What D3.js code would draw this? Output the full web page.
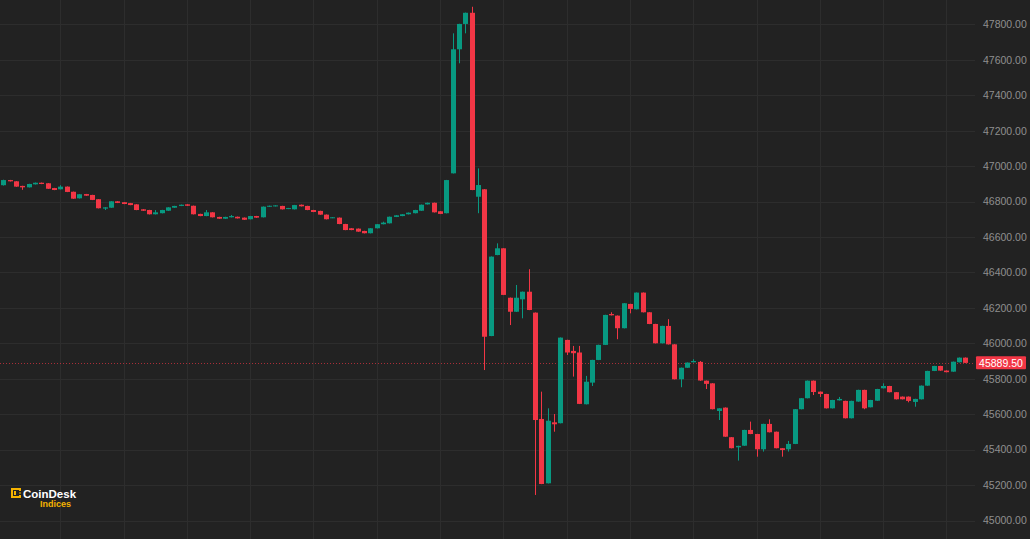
<!DOCTYPE html>
<html><head><meta charset="utf-8">
<script src="https://cdn.jsdelivr.net/npm/d3@7"></script>
<style>
html,body{margin:0;padding:0;background:#222222;overflow:hidden;}
svg{display:block;}
</style></head>
<body>
<svg id="chart" width="1030" height="539"></svg>
<script>
const opens  = [46892,46921,46914,46888,46880,46897,46906,46903,46876,46869,46884,46855,46818,46842,46837,46813,46760,46765,46801,46796,46791,46784,46756,46752,46728,46734,46748,46765,46775,46784,46776,46730,46718,46739,46713,46703,46711,46714,46709,46700,46718,46711,46771,46773,46775,46758,46756,46782,46775,46752,46747,46726,46707,46709,46673,46649,46647,46634,46621,46649,46672,46677,46713,46718,46728,46734,46748,46784,46793,46745,46734,46959,47659,47802,47865,46827,46869,46041,46498,46536,46257,46178,46248,46291,46173,45573,45210,45554,45549,46019,45957,45948,45656,45778,45906,45991,46165,46156,46085,46222,46192,46286,46175,46109,46000,46098,45994,45797,45862,45893,45895,45789,45774,45618,45637,45470,45413,45422,45511,45488,45402,45545,45501,45408,45402,45432,45628,45690,45789,45727,45714,45633,45678,45675,45577,45671,45737,45639,45676,45746,45759,45724,45699,45699,45669,45684,45761,45844,45872,45846,45840,45893,45919];
const highs  = [46923,46922,46915,46889,46900,46907,46907,46904,46877,46892,46885,46856,46842,46843,46838,46814,46768,46802,46802,46797,46792,46785,46757,46753,46752,46753,46768,46776,46783,46785,46777,46731,46752,46740,46714,46714,46724,46715,46710,46719,46719,46772,46777,46779,46776,46764,46781,46783,46776,46753,46748,46727,46712,46710,46674,46650,46648,46635,46650,46673,46686,46715,46723,46729,46738,46753,46783,46794,46794,46746,46922,47749,47803,47866,47899,46987,46870,46490,46564,46537,46258,46329,46292,46418,46174,45727,45633,45601,46033,46020,45985,45985,45816,45907,45992,46161,46175,46157,46227,46223,46287,46287,46176,46110,46099,46136,45995,45863,45892,45910,45900,45790,45775,45634,45638,45471,45422,45512,45558,45489,45546,45571,45502,45409,45449,45629,45691,45790,45790,45728,45715,45681,45697,45676,45676,45738,45738,45681,45743,45774,45760,45725,45700,45700,45687,45762,45845,45873,45873,45847,45897,45920,45920];
const lows   = [46890,46913,46883,46866,46879,46896,46898,46871,46864,46868,46853,46815,46817,46832,46808,46761,46752,46764,46791,46785,46779,46751,46747,46727,46727,46733,46747,46764,46774,46775,46727,46717,46717,46710,46702,46702,46710,46704,46696,46699,46708,46710,46770,46772,46755,46757,46755,46772,46751,46740,46725,46699,46706,46672,46638,46638,46629,46620,46620,46648,46671,46676,46712,46717,46727,46733,46747,46783,46738,46729,46733,46958,47580,47749,46864,46734,45849,46040,46497,46272,46103,46177,46141,46187,45144,45205,45209,45501,45548,45934,45812,45657,45655,45759,45905,45990,46157,46023,46084,46169,46191,46174,46108,45999,45999,45993,45796,45752,45861,45892,45788,45742,45627,45567,45472,45407,45338,45421,45487,45360,45389,45497,45407,45360,45389,45431,45627,45689,45708,45697,45632,45632,45677,45576,45576,45670,45628,45638,45675,45745,45723,45683,45683,45667,45642,45683,45760,45843,45845,45836,45839,45892,45888];
const closes = [46921,46914,46884,46880,46899,46906,46899,46872,46865,46884,46854,46816,46841,46833,46809,46762,46767,46801,46792,46786,46780,46752,46748,46728,46739,46752,46767,46775,46782,46776,46728,46718,46739,46711,46703,46713,46718,46705,46697,46718,46709,46771,46776,46778,46756,46763,46780,46773,46752,46741,46726,46700,46711,46673,46639,46639,46630,46621,46649,46672,46681,46714,46722,46728,46737,46752,46782,46793,46739,46730,46921,47659,47802,47865,46865,46893,46037,46489,46536,46273,46178,46257,46291,46188,45567,45206,45563,45543,46032,45948,45944,45658,45783,45906,45991,46160,46158,46085,46226,46194,46286,46175,46109,46000,46098,45994,45797,45862,45891,45900,45790,45771,45628,45633,45473,45408,45421,45511,45488,45402,45545,45498,45408,45398,45432,45628,45690,45789,45725,45714,45633,45680,45686,45577,45675,45737,45633,45680,45742,45759,45724,45684,45684,45675,45686,45761,45844,45872,45846,45837,45896,45919,45889.5];
const priceTicks = [45000,45200,45400,45600,45800,46000,46200,46400,46600,46800,47000,47200,47400,47600,47800];
const lastPrice = 45889.5;
const logoName = "CoinDesk";
const logoSub = "Indices";

const UP = "#089981", DOWN = "#f23645", BG = "#222222", GRID = "#2d2d2d";
const W = 1030, H = 539;
const svg = d3.select("#chart");
svg.append("rect").attr("width", W).attr("height", H).attr("fill", BG);

const n = opens.length;
const idx = d3.range(n);
const data = idx.map(i => ({i, o: opens[i], h: highs[i], l: lows[i], c: closes[i]}));

const x = d3.scaleLinear().domain([0, 152]).range([3.3, 965.4]);
const y = d3.scaleLinear().domain([45000, 47800]).range([520.5, 24.3]);
const plotRight = 975;

// grid
const g = svg.append("g");
g.selectAll("line.h").data(priceTicks).join("line")
  .attr("x1", 0).attr("x2", plotRight)
  .attr("y1", d => Math.round(y(d)) + 0.5).attr("y2", d => Math.round(y(d)) + 0.5)
  .attr("stroke", GRID).attr("stroke-width", 1);
const vIdx = d3.range(9, n, 10);
g.selectAll("line.v").data(vIdx).join("line")
  .attr("x1", d => Math.round(x(d)) + 0.5).attr("x2", d => Math.round(x(d)) + 0.5)
  .attr("y1", 0).attr("y2", H)
  .attr("stroke", GRID).attr("stroke-width", 1);

// last price dotted line
svg.append("line")
  .attr("x1", 0).attr("x2", plotRight)
  .attr("y1", Math.round(y(lastPrice)) + 0.5).attr("y2", Math.round(y(lastPrice)) + 0.5)
  .attr("stroke", DOWN).attr("stroke-opacity", 0.65).attr("stroke-width", 1)
  .attr("stroke-dasharray", "1,2");

// candles
const bw = 5;
const cg = svg.append("g");
cg.selectAll("line.wick").data(data).join("line")
  .attr("x1", d => Math.round(x(d.i)) + 0.5).attr("x2", d => Math.round(x(d.i)) + 0.5)
  .attr("y1", d => y(d.h)).attr("y2", d => y(d.l))
  .attr("stroke", d => d.c >= d.o ? UP : DOWN).attr("stroke-width", 1);
cg.selectAll("rect.body").data(data).join("rect")
  .attr("x", d => Math.round(x(d.i)) + 0.5 - bw / 2)
  .attr("width", bw)
  .attr("y", d => y(Math.max(d.o, d.c)))
  .attr("height", d => Math.max(1, Math.abs(y(d.o) - y(d.c))))
  .attr("fill", d => d.c >= d.o ? UP : DOWN);

// right axis
const axis = d3.axisRight(y).tickValues(priceTicks).tickFormat(d3.format(".2f"))
  .tickSizeInner(0).tickSizeOuter(0).tickPadding(0);
const ag = svg.append("g").attr("transform", "translate(983,0)").call(axis);
ag.select(".domain").remove();
ag.selectAll("text").attr("fill", "#8f8f8f")
  .style("font-family", "'Liberation Sans', Arial, sans-serif").style("font-size", "10.5px");

// last price tag
const ly = y(lastPrice);
svg.append("rect").attr("x", 976).attr("y", ly - 6.5).attr("width", 50).attr("height", 13)
  .attr("rx", 1).attr("fill", DOWN);
svg.append("text").attr("x", 1001).attr("y", ly).attr("dy", "0.35em")
  .attr("text-anchor", "middle").attr("fill", "#ffffff")
  .style("font-family", "'Liberation Sans', Arial, sans-serif").style("font-size", "10.5px")
  .text(d3.format(".2f")(lastPrice));

// logo
const lg = svg.append("g").attr("transform", "translate(11,488)");
const Y = "#f5b301";
const parts = [[0,0,10,2],[0,0,2,10],[0,8,10,2],[8,0,2,3],[8,7,2,3],[3,3,2,4],[8,4.5,2,1]];
lg.selectAll("rect").data(parts).join("rect")
  .attr("x", d => d[0]).attr("y", d => d[1]).attr("width", d => d[2]).attr("height", d => d[3])
  .attr("fill", Y);
svg.append("text").attr("x", 23).attr("y", 498).text(logoName)
  .attr("fill", "#ffffff").style("font-family", "'Liberation Sans', Arial, sans-serif")
  .style("font-weight", "bold").style("font-size", "11.5px");
svg.append("text").attr("x", 71).attr("y", 506.5).attr("text-anchor", "end").text(logoSub)
  .attr("fill", Y).style("font-family", "'Liberation Sans', Arial, sans-serif")
  .style("font-weight", "bold").style("font-size", "9px");
</script>
</body></html>
